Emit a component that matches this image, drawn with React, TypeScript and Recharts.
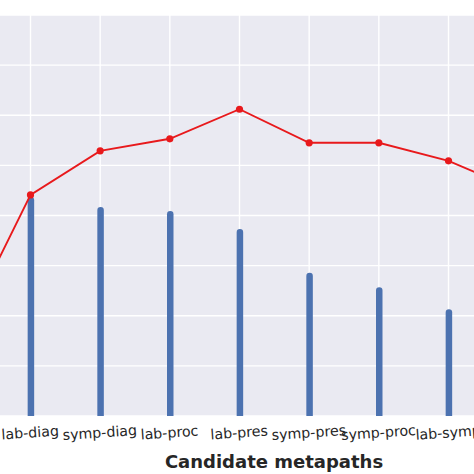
import { ComposedChart, Bar, Line, XAxis, YAxis, CartesianGrid } from 'recharts';

// offscreen neighbours at both ends keep the red line running past the edges
const categories = ['', 'lab-diag', 'symp-diag', 'lab-proc', 'lab-pres', 'symp-pres', 'symp-proc', 'lab-symp', ''];
const lineValues = [0.16, 0.441, 0.529, 0.553, 0.612, 0.545, 0.545, 0.509, 0.45];
const barValues = [null, 0.437, 0.417, 0.409, 0.373, 0.286, 0.257, 0.213, null];
const yTicks = [0, 0.1, 0.2, 0.3, 0.4, 0.5, 0.6, 0.7, 0.8];

const chartData = categories.map((name, i) => ({
  name,
  score: lineValues[i],
  ratio: barValues[i],
}));

const font = '"DejaVu Sans", sans-serif';

const RotatedTick = (props: any) => {
  const { x, payload } = props;
  return (
    <g transform={`translate(${x},437.5) rotate(-4)`}>
      <text textAnchor="middle" fill="#262626" fontSize={14.2} fontFamily={font}>
        {payload.value}
      </text>
    </g>
  );
};

export default function App() {
  return (
    <div style={{ position: 'fixed', left: 0, top: 0, width: 474, height: 474, overflow: 'hidden', background: '#fff' }}>
      <div style={{ position: 'absolute', left: -74.5, top: 0 }}>
        <ComposedChart
          width={627}
          height={474}
          data={chartData}
          margin={{ top: 15, right: 0, bottom: 0, left: 0 }}
        >
          <CartesianGrid stroke="#ffffff" strokeWidth={1.4} fill="#EAEAF2" fillOpacity={1} />
          <XAxis
            dataKey="name"
            height={58}
            axisLine={false}
            tickLine={false}
            interval={0}
            tick={<RotatedTick />}
          />
          <YAxis hide domain={[0, 0.8]} ticks={yTicks} />
          <Bar dataKey="ratio" fill="#4C72B0" barSize={6.5} radius={[3.25, 3.25, 0, 0]} isAnimationActive={false} />
          <Line
            dataKey="score"
            stroke="#E8191C"
            strokeWidth={1.9}
            dot={{ r: 3.6, fill: '#E8191C', stroke: '#E8191C', strokeWidth: 0 }}
            activeDot={false}
            isAnimationActive={false}
          />
        </ComposedChart>
      </div>
      <div
        style={{
          position: 'absolute',
          left: 0,
          width: 548,
          top: 450,
          textAlign: 'center',
          fontFamily: font,
          fontWeight: 'bold',
          fontSize: 18,
          color: '#262626',
          lineHeight: '24px',
        }}
      >
        Candidate metapaths
      </div>
    </div>
  );
}
